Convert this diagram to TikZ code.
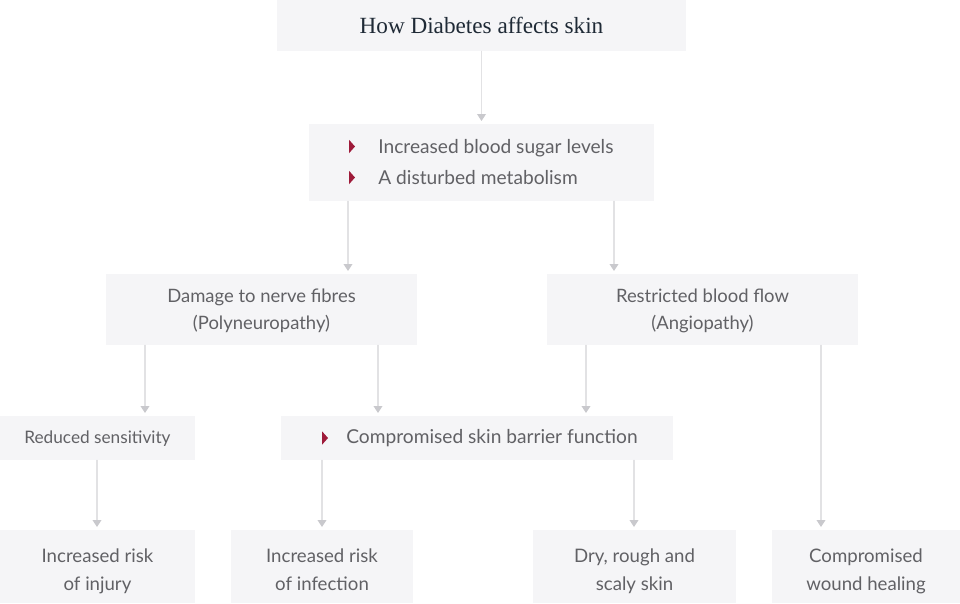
\documentclass[tikz,border=0pt]{standalone}
\usepackage{fontspec}
\newfontfamily\bodyfont{Lato}
\newfontfamily\titlefont{Liberation Serif}
\usetikzlibrary{arrows.meta}
\definecolor{boxgray}{HTML}{F5F5F7}
\definecolor{txtgray}{HTML}{616165}
\definecolor{titlenavy}{HTML}{1F2A36}
\definecolor{linegray}{HTML}{E2E2E4}
\definecolor{tipgray}{HTML}{C9C9CD}
\definecolor{crimson}{HTML}{9E1B3A}
\newcommand\midstrut{\rule[-3pt]{0pt}{13.4pt}}
\newcommand\botstrut{\rule[-2.5pt]{0pt}{16.3pt}}
\begin{document}
\begin{tikzpicture}[x=0.02cm, y=-0.02cm, line cap=round, line join=round]
	\tikzset{box/.style={fill=boxgray, inner sep=0pt, align=center, text=txtgray, font=\bodyfont\fontsize{10.5}{15.9}\selectfont},
		bigbox/.style={box, font=\bodyfont\fontsize{10.6}{16.4}\selectfont},
		txt/.style={inner sep=0pt, text=txtgray, font=\bodyfont\fontsize{10.9}{12}\selectfont},
		arr/.style={draw=linegray, line width=0.7pt, -{Triangle[width=5pt,length=4pt,color=tipgray]}, shorten >=1.5pt},
		bul/.pic={\fill[crimson] (0,-6.75)--(6,0)--(0,6.75)--cycle;}}
	\useasboundingbox (0,0) rectangle (960,603);
	% boxes
	\node[box, minimum width=8.18cm, minimum height=1.02cm, text=titlenavy, font=\titlefont\fontsize{13.2}{15}\selectfont, text height=11.6pt, text depth=2pt] (title) at (481.5,25.5) {How Diabetes affects skin};
	\node[box, minimum width=6.9cm, minimum height=1.54cm] (cause) at (481.5,162.5) {};
	\node[box, minimum width=6.22cm, minimum height=1.42cm] (nerve) at (261.5,309.5) {\midstrut Damage to nerve fibres\\\midstrut(Polyneuropathy)};
	\node[box, minimum width=6.22cm, minimum height=1.42cm] (blood) at (702.5,309.5) {\midstrut Restricted blood flow\\\midstrut(Angiopathy)};
	\node[box, minimum width=3.9cm, minimum height=0.88cm, font=\bodyfont\fontsize{9.8}{12}\selectfont, text height=8.5pt, text depth=2.8pt] (sens) at (97.5,438) {Reduced sensitivity};
	\node[box, minimum width=7.84cm, minimum height=0.88cm] (barrier) at (477,438) {};
	\node[bigbox, minimum width=3.9cm, minimum height=1.46cm] (injury) at (97.5,566.5) {\botstrut Increased risk\\\botstrut of injury};
	\node[bigbox, minimum width=3.64cm, minimum height=1.46cm] (infect) at (322,566.5) {\botstrut Increased risk\\\botstrut of infection};
	\node[bigbox, minimum width=4.06cm, minimum height=1.46cm] (dry) at (634.5,566.5) {\botstrut Dry, rough and\\\botstrut scaly skin};
	\node[bigbox, minimum width=3.76cm, minimum height=1.46cm] (wound) at (866,566.5) {\botstrut Compromised\\\botstrut wound healing};
	% bullet lines
	\node[txt, anchor=base west] (sugar) at (378,153) {Increased blood sugar levels};
	\node[txt, anchor=base west] (metab) at (378,184) {A disturbed metabolism};
	\node[txt, anchor=base west] (skin) at (346,443) {Compromised skin barrier function};
	\path (sugar.base west) ++(-29,-6.5) pic {bul};
	\path (metab.base west) ++(-29,-6.5) pic {bul};
	\path (skin.base west) ++(-24,-5) pic {bul};
	% arrows
	\draw[arr] (title.south) -- (cause.north);
	\draw[arr] (cause.south -| 348,0) -- (nerve.north -| 348,0);
	\draw[arr] (cause.south -| 614,0) -- (blood.north -| 614,0);
	\draw[arr] (nerve.south -| 145,0) -- (sens.north -| 145,0);
	\draw[arr] (nerve.south -| 378,0) -- (barrier.north -| 378,0);
	\draw[arr] (blood.south -| 586,0) -- (barrier.north -| 586,0);
	\draw[arr] (blood.south -| 821,0) -- (wound.north -| 821,0);
	\draw[arr] (sens.south -| 97,0) -- (injury.north -| 97,0);
	\draw[arr] (barrier.south -| 322,0) -- (infect.north -| 322,0);
	\draw[arr] (barrier.south -| 634,0) -- (dry.north -| 634,0);
\end{tikzpicture}
\end{document}
